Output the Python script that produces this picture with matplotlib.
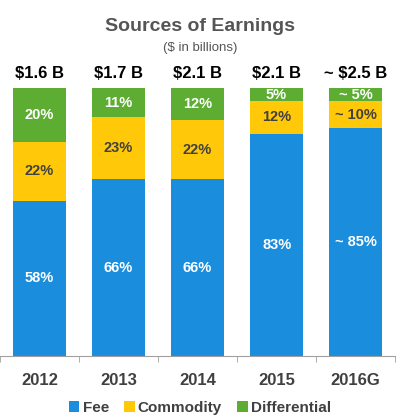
import matplotlib.pyplot as plt
import numpy as np

# 데이터
years = ["2012", "2013", "2014", "2015", "2016G"]
totals = ["$1.6 B", "$1.7 B", "$2.1 B", "$2.1 B", "~ $2.5 B"]
fee = [58, 66, 66, 83, 85]
commodity = [22, 23, 22, 12, 10]
differential = [20, 11, 12, 5, 5]
fee_labels = ["58%", "66%", "66%", "83%", "~ 85%"]
commodity_labels = ["22%", "23%", "22%", "12%", "~ 10%"]
diff_labels = ["20%", "11%", "12%", "5%", "~ 5%"]

BLUE = "#1b8ddd"
YELLOW = "#ffc90a"
GREEN = "#5cad32"
FONT = ["Liberation Sans", "DejaVu Sans"]

plt.rcParams["font.family"] = FONT

fig = plt.figure(figsize=(4.0, 4.19), dpi=100)
ax = fig.add_axes([0.0, 0.150, 0.988, 0.640])

x = np.arange(len(years))
w = 0.67
fee = np.array(fee)
commodity = np.array(commodity)
differential = np.array(differential)

ax.bar(x, fee, w, color=BLUE, label="Fee")
ax.bar(x, commodity, w, bottom=fee, color=YELLOW, label="Commodity")
ax.bar(x, differential, w, bottom=fee + commodity, color=GREEN,
       label="Differential")

# 각 구간 비율 라벨과 합계 라벨
for i in range(len(years)):
    ax.text(x[i], fee[i] / 2, fee_labels[i], ha="center", va="center",
            color="white", fontsize=10.5, fontweight="bold")
    ax.text(x[i], fee[i] + commodity[i] / 2, commodity_labels[i],
            ha="center", va="center", color="#404040", fontsize=10.5,
            fontweight="bold")
    ax.text(x[i], fee[i] + commodity[i] + differential[i] / 2, diff_labels[i],
            ha="center", va="center", color="white", fontsize=10.5,
            fontweight="bold")
    ax.text(x[i], 105.5, totals[i], ha="center", va="center",
            color="black", fontsize=12, fontweight="bold")

ax.set_xlim(-0.5, 4.5)
ax.set_ylim(0, 100)
ax.set_xticks(x)
ax.set_xticklabels(years, fontsize=12, fontweight="bold", color="#404040")
ax.set_xticks(np.arange(-0.5, 5.0, 1.0), minor=True)
ax.tick_params(axis="x", which="major", length=0, pad=12)
ax.tick_params(axis="x", which="minor", length=4, color="#a0a0a0")
ax.set_yticks([])
for s in ["top", "right", "left"]:
    ax.spines[s].set_visible(False)
ax.spines["bottom"].set_color("#a0a0a0")

fig.text(0.5, 0.937, "Sources of Earnings", ha="center", va="center",
         fontsize=14, fontweight="bold", color="#555555")
fig.text(0.5, 0.885, "($ in billions)", ha="center", va="center",
         fontsize=9.5, color="#555555")

leg = fig.legend(loc="center", bbox_to_anchor=(0.5, 0.027), ncol=3,
                 frameon=False, handlelength=0.7, handleheight=0.7,
                 handletextpad=0.2, columnspacing=1.0,
                 prop={"family": FONT, "weight": "bold", "size": 11})
for t in leg.get_texts():
    t.set_color("#404040")

fig.savefig("out.png", dpi=100, facecolor="white")
